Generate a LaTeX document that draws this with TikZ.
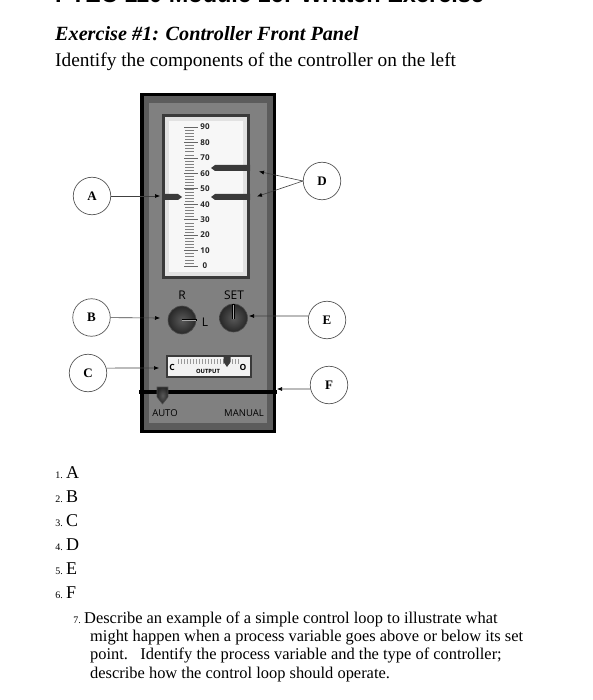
\documentclass[tikz,border=0pt]{standalone}
\usepackage{fontspec}
\setmainfont{Liberation Serif}
\setsansfont{Open Sans}
\newfontfamily\headfont{Liberation Sans}
\usetikzlibrary{arrows.meta}
\definecolor{PanelClr}{RGB}{92,92,92}
\definecolor{FaceClr}{RGB}{128,128,128}
\definecolor{ScaleClr}{RGB}{226,226,226}
\definecolor{EdgeClr}{RGB}{58,58,58}
\definecolor{KnobClr}{RGB}{40,40,40}
\tikzset{
  callout/.style={draw=black!65,line width=0.7pt,fill=white,circle,minimum size=37.5pt,inner sep=0pt,font=\fontsize{13}{13}\selectfont\bfseries},
  leader/.style={black!75,line width=0.6pt,-{Latex[length=5pt,width=4pt,black]}},
  scalenum/.style={font=\sffamily\fontsize{8}{8}\selectfont\bfseries,text=black!85,inner sep=0pt},
  panellabel/.style={font=\sffamily\fontsize{12}{12}\selectfont,text=black,inner sep=0pt},
  knob/.style={draw=black!70,line width=0.6pt,inner color=black!65,outer color=KnobClr},
  bodytext/.style={anchor=base west,inner sep=0pt,font=\fontsize{16.43}{16.43}\selectfont},
  listnum/.style={anchor=base east,inner sep=0pt,font=\fontsize{10}{10}\selectfont},
  listitem/.style={anchor=base west,inner sep=0pt,font=\fontsize{18}{18}\selectfont},
}
\begin{document}
\begin{tikzpicture}[x=1pt,y=-1pt]
\useasboundingbox (0,0) rectangle (593,700);
\fill[white] (0,0) rectangle (593,700);

% page text
\node[anchor=base west,inner sep=0pt,font=\headfont\fontsize{23.5}{23.5}\selectfont\bfseries] (title) at (55,3) {PTEC 110 Module 16: Written Exercise};
\node[anchor=base west,inner sep=0pt,font=\fontsize{20.2}{20.2}\selectfont\bfseries\itshape] (exercise) at (55,40.5) {Exercise \#1: Controller Front Panel};
\node[anchor=base west,inner sep=0pt,font=\fontsize{19.35}{19.35}\selectfont] (identify) at (55,66.5) {Identify the components of the controller on the left};

% panel
\draw[line width=3.5pt,fill=PanelClr] (141.75,94.75) rectangle (274.25,431.25);
\fill[FaceClr] (149,103) rectangle (267,423);

% scale window
\draw[EdgeClr,line width=3pt,fill=ScaleClr] (163.5,116) rectangle (248.5,277.5);
\fill[white!97!black] (169,121) rectangle (243,272);
\foreach \v in {0,2,...,90}{
  \draw[black!50,line width=0.5pt] (185,{266-\v*1.544}) -- (194,{266-\v*1.544});
}
\foreach \v in {0,10,...,90}{
  \draw[black!60,line width=0.6pt] (184,{266-\v*1.544}) -- (198,{266-\v*1.544});
  \node[scalenum] (num\v) at (205,{266-\v*1.544}) {\v};
}
\fill[EdgeClr] (163,194) -- (178,194) -- (182,197) -- (178,200) -- (163,200) -- cycle;
\fill[EdgeClr] (250,165) -- (215,165) -- (211,168) -- (215,171) -- (250,171) -- cycle;
\fill[EdgeClr] (250,194) -- (215,194) -- (211,197) -- (215,200) -- (250,200) -- cycle;

% knobs
\node[panellabel] (rlabel) at (182,295) {R};
\node[panellabel] (setlabel) at (234,295) {SET};
\node[panellabel] (llabel) at (205,322) {L};
\draw[knob] (182,320) circle (14);
\draw[knob] (233.5,318) circle (14);
\draw[black,line width=2.6pt] (182,320) -- (197,320);
\draw[black!35,line width=1pt] (182,320) -- (196,320);
\draw[black,line width=2.6pt] (233.5,319) -- (233.5,304);
\draw[black!35,line width=1pt] (233.5,319) -- (233.5,305);

% output meter
\draw[EdgeClr,line width=2.5pt,fill=white!95!black] (167,356) rectangle (251,377);
\foreach \x in {178,181,...,238}{
  \draw[black!40,line width=0.5pt] (\x,359) -- (\x,364);
}
\node[panellabel,font=\sffamily\fontsize{8.5}{8.5}\selectfont\bfseries] (clabel) at (172,367) {C};
\node[panellabel,font=\sffamily\fontsize{8.5}{8.5}\selectfont\bfseries] (olabel) at (243,367) {O};
\node[panellabel,font=\sffamily\fontsize{5.8}{5.8}\selectfont\bfseries] (outlabel) at (208,371) {OUTPUT};
\fill[EdgeClr] (223.5,356) -- (230.5,356) -- (230.5,362) -- (227,367) -- (223.5,362) -- cycle;

% slider
\draw[black,line width=3.5pt] (139,392) -- (277,392);
\draw[knob] (157,387) -- (168,387) -- (168,397) -- (162.5,404) -- (157,397) -- cycle;
\node[panellabel,font=\sffamily\fontsize{9.5}{9.5}\selectfont] (autolabel) at (165,413) {AUTO};
\node[panellabel,font=\sffamily\fontsize{9.5}{9.5}\selectfont] (manuallabel) at (244,413) {MANUAL};

% callouts
\node[callout] (A) at (92,196) {A};
\node[callout] (B) at (91.5,317.5) {B};
\node[callout] (C) at (88,373) {C};
\node[callout] (D) at (322,181) {D};
\node[callout] (E) at (327,320) {E};
\node[callout] (F) at (329,385) {F};
\coordinate (Atip) at (160,196);
\coordinate (Btip) at (160,318);
\coordinate (Ctip) at (159,368);
\coordinate (D1tip) at (259,171.5);
\coordinate (D2tip) at (257,196.5);
\coordinate (Etip) at (249,316);
\coordinate (Ftip) at (277,389);
\draw[leader] (A) -- (Atip);
\draw[leader] (B) -- (Btip);
\draw[leader] (C.15) -- (Ctip);
\draw[leader] (D.west) -- (D1tip);
\draw[leader] (D.west) -- (D2tip);
\draw[leader] (E.168) -- (Etip);
\draw[leader] (F.192) -- (Ftip);

% list
\foreach \n/\t/\y in {1/A/478,2/B/502,3/C/526,4/D/550,5/E/574.5,6/F/598}{
  \node[listnum] (num-\n) at (63,\y) {\n.};
  \node[listitem] (item-\n) at (66,\y) {\t};
}
\node[listnum] (num-7) at (81,623) {7.};
\node[bodytext] (line1) at (84,623) {Describe an example of a simple control loop to illustrate what};
\node[bodytext] (line2) at (90,641) {might happen when a process variable goes above or below its set};
\node[bodytext] (line3) at (90,659) {point.\ \ \ Identify the process variable and the type of controller;};
\node[bodytext] (line4) at (90,678) {describe how the control loop should operate.};
\end{tikzpicture}
\end{document}
